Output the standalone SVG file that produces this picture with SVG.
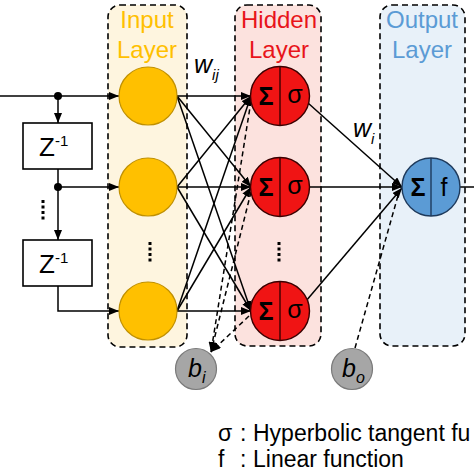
<svg xmlns="http://www.w3.org/2000/svg" width="474" height="474" viewBox="0 0 474 474">
<style>
text{font-family:"Liberation Sans",Arial,sans-serif;}
.box{stroke:#000;stroke-width:1.6;stroke-dasharray:6 4;}
.ln{stroke:#000;stroke-width:1.5;fill:none;}
.dl{stroke:#000;stroke-width:1.5;fill:none;stroke-dasharray:5 3.5;}
.lbl{font-size:24px;text-anchor:middle;}
.inn{fill:#FFC000;stroke:#C09000;stroke-width:1.2;}
.hid{fill:#F01414;stroke:#3A0000;stroke-width:1.4;}
.out{fill:#5B9BD5;stroke:#1E3A5C;stroke-width:1.4;}
.bias{fill:#A6A6A6;stroke:#7A7A7A;stroke-width:1.2;}
.zb{fill:#fff;stroke:#000;stroke-width:1.6;}
.sym{font-size:25px;text-anchor:middle;fill:#000;}
.it{font-style:italic;}
.dots{stroke:#000;stroke-width:3;stroke-dasharray:3 2.5;}
</style>
<defs>
<marker id="ah" viewBox="0 0 10 8" refX="10" refY="4" markerWidth="10" markerHeight="8" markerUnits="userSpaceOnUse" orient="auto">
<path d="M0,0 L10,4 L0,8 z" fill="#000"/>
</marker>
</defs>

<g id="layers">
<rect class="box" x="108" y="5" width="79" height="342" rx="12" fill="#FEF5DF"/>
<rect class="box" x="235" y="5" width="86" height="341" rx="12" fill="#FCE2DE"/>
<rect class="box" x="380" y="5" width="85" height="341" rx="12" fill="#E8F1F9"/>
<text class="lbl" x="147" y="28" fill="#FFC000">Input</text>
<text class="lbl" x="147" y="58" fill="#FFC000">Layer</text>
<text class="lbl" x="279" y="28" fill="#E8141A">Hidden</text>
<text class="lbl" x="279" y="58" fill="#E8141A">Layer</text>
<text class="lbl" x="422" y="28" fill="#5B9BD5">Output</text>
<text class="lbl" x="422" y="58" fill="#5B9BD5">Layer</text>
</g>

<g id="connectors">
<line class="ln" x1="0" y1="96" x2="119" y2="96" marker-end="url(#ah)"/>
<line class="ln" x1="58" y1="96" x2="58" y2="123" marker-end="url(#ah)"/>
<circle cx="58" cy="96" r="4" fill="#000"/>
<line class="ln" x1="58" y1="169" x2="58" y2="240" marker-end="url(#ah)"/>
<line class="ln" x1="58" y1="187" x2="119" y2="187" marker-end="url(#ah)"/>
<circle cx="58" cy="187" r="4" fill="#000"/>
<polyline class="ln" points="58,286 58,311 119,311" marker-end="url(#ah)"/>
<line class="ln" x1="177" y1="96" x2="251" y2="96" marker-end="url(#ah)"/>
<line class="ln" x1="177" y1="96" x2="251" y2="187" marker-end="url(#ah)"/>
<line class="ln" x1="177" y1="96" x2="251" y2="311" marker-end="url(#ah)"/>
<line class="ln" x1="177" y1="187" x2="251" y2="96" marker-end="url(#ah)"/>
<line class="ln" x1="177" y1="187" x2="251" y2="187" marker-end="url(#ah)"/>
<line class="ln" x1="177" y1="187" x2="251" y2="311" marker-end="url(#ah)"/>
<line class="ln" x1="177" y1="311" x2="251" y2="96" marker-end="url(#ah)"/>
<line class="ln" x1="177" y1="311" x2="251" y2="187" marker-end="url(#ah)"/>
<line class="ln" x1="177" y1="311" x2="251" y2="311" marker-end="url(#ah)"/>
<line class="dl" x1="251" y1="101" x2="211" y2="352" marker-end="url(#ah)"/>
<line class="dl" x1="251" y1="192" x2="211" y2="352" marker-end="url(#ah)"/>
<line class="dl" x1="249" y1="316" x2="211" y2="352" marker-end="url(#ah)"/>
<line class="ln" x1="308" y1="103" x2="402" y2="187" marker-end="url(#ah)"/>
<line class="ln" x1="310" y1="187" x2="402" y2="187" marker-end="url(#ah)"/>
<line class="ln" x1="306" y1="301" x2="402" y2="188" marker-end="url(#ah)"/>
<line class="dl" x1="355" y1="348" x2="399" y2="192"/>
<line class="ln" x1="460" y1="187" x2="474" y2="187"/>
</g>

<g id="z1">
<rect class="zb" x="23" y="123" width="69" height="46"/>
<text x="39" y="156" font-size="26">Z<tspan font-size="15" dy="-10">-1</tspan></text>
</g>
<g id="z2">
<rect class="zb" x="23" y="240" width="69" height="46"/>
<text x="39" y="273" font-size="26">Z<tspan font-size="15" dy="-10">-1</tspan></text>
</g>
<line class="dots" x1="43" y1="200" x2="43" y2="222"/>

<g id="in1"><circle class="inn" cx="148" cy="96" r="29"/></g>
<g id="in2"><circle class="inn" cx="148" cy="187" r="29"/></g>
<line class="dots" x1="150" y1="242" x2="150" y2="264"/>
<g id="in3"><circle class="inn" cx="148" cy="311" r="29"/></g>

<g id="h1"><circle class="hid" cx="280" cy="96" r="29.5"/><line x1="280" y1="66.5" x2="280" y2="125.5" stroke="#3A0000" stroke-width="1.4"/>
<text class="sym" x="266" y="105" font-weight="bold">Σ</text><text class="sym" x="295" y="103">σ</text></g>
<g id="h2"><circle class="hid" cx="280" cy="187" r="29.5"/><line x1="280" y1="157.5" x2="280" y2="216.5" stroke="#3A0000" stroke-width="1.4"/>
<text class="sym" x="266" y="196" font-weight="bold">Σ</text><text class="sym" x="295" y="194">σ</text></g>
<line class="dots" x1="279" y1="242" x2="279" y2="264"/>
<g id="h3"><circle class="hid" cx="280" cy="311" r="29.5"/><line x1="280" y1="281.5" x2="280" y2="340.5" stroke="#3A0000" stroke-width="1.4"/>
<text class="sym" x="266" y="320" font-weight="bold">Σ</text><text class="sym" x="295" y="318">σ</text></g>

<g id="o1"><circle class="out" cx="431" cy="187" r="29"/><line x1="431" y1="158" x2="431" y2="216" stroke="#1E3A5C" stroke-width="1.4"/>
<text class="sym" x="418" y="196" font-weight="bold">Σ</text><text class="sym" x="444" y="196">f</text></g>

<g id="bi"><circle class="bias" cx="196" cy="369" r="20.5"/>
<text class="it" x="188" y="377" font-size="25">b<tspan font-size="16" dy="6">i</tspan></text></g>
<g id="bo"><circle class="bias" cx="352" cy="369" r="20.5"/>
<text class="it" x="342" y="377" font-size="25">b<tspan font-size="16" dy="6">o</tspan></text></g>

<g id="weights">
<text class="it" x="194" y="73" font-size="25">w<tspan font-size="15" dy="7">ij</tspan></text>
<text class="it" x="353" y="137" font-size="25">w<tspan font-size="15" dy="7">i</tspan></text>
</g>

<g id="legend" font-size="23">
<text y="441"><tspan x="218">σ</tspan><tspan x="240">:</tspan><tspan x="253">Hyperbolic tangent fu</tspan></text>
<text y="467"><tspan x="218">f</tspan><tspan x="240">:</tspan><tspan x="253">Linear function</tspan></text>
</g>
</svg>
